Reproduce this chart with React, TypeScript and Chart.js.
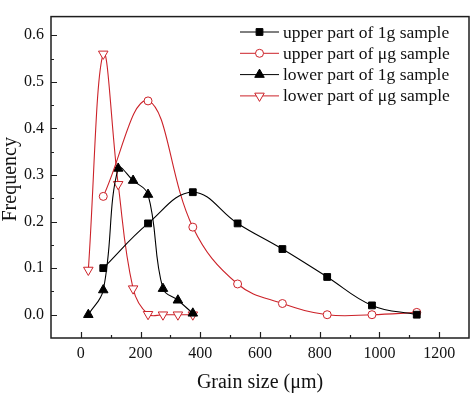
import React, { useEffect, useRef } from "react";
import { Chart, registerables } from "chart.js";

Chart.register(...registerables);

const xUpper = [75, 225, 375, 525, 675, 825, 975, 1125];
const upper1g = [0.1, 0.196, 0.263, 0.196, 0.141, 0.081, 0.02, 0.0];
const upperUg = [0.254, 0.459, 0.188, 0.066, 0.024, 0.0, 0.0, 0.005];
const xLower = [25, 75, 125, 175, 225, 275, 325, 375];
const lower1g = [0.0, 0.053, 0.314, 0.288, 0.258, 0.056, 0.031, 0.003];
const lowerUg = [0.096, 0.56, 0.28, 0.056, 0.001, 0.0, 0.0, 0.0];
const seriesNames = [
  "upper part of 1g sample",
  "upper part of μg sample",
  "lower part of 1g sample",
  "lower part of μg sample",
];
const xTickLabels = [0, 200, 400, 600, 800, 1000, 1200];
const yTickLabels = [0.0, 0.1, 0.2, 0.3, 0.4, 0.5, 0.6];

const RED = "#cc2229";
const BLACK = "#000000";
const AXIS = "#1e1e1e";
const FONT = "'Liberation Serif', 'Times New Roman', serif";

function pts(xs: number[], ys: number[]) {
  return xs.map((x, i) => ({ x, y: ys[i] }));
}

function drawMarker(ctx: CanvasRenderingContext2D, style: string, rot: number, x: number, y: number, r: number, fill: string, stroke: string) {
  ctx.save();
  ctx.beginPath();
  if (style === "rect") {
    const s = r * Math.SQRT1_2;
    ctx.rect(x - s, y - s, 2 * s, 2 * s);
  } else if (style === "circle") {
    ctx.arc(x, y, r, 0, Math.PI * 2);
  } else {
    let rad = (rot * Math.PI) / 180;
    for (let k = 0; k < 3; k++) {
      const px = x + Math.sin(rad) * r;
      const py = y - Math.cos(rad) * r;
      if (k === 0) ctx.moveTo(px, py);
      else ctx.lineTo(px, py);
      rad += (2 * Math.PI) / 3;
    }
    ctx.closePath();
  }
  ctx.fillStyle = fill;
  ctx.fill();
  ctx.strokeStyle = stroke;
  ctx.lineWidth = 1;
  ctx.stroke();
  ctx.restore();
}

const decorPlugin = {
  id: "decor",
  afterDraw(chart: any) {
    const ctx: CanvasRenderingContext2D = chart.ctx;
    const { left, right, top, bottom } = chart.chartArea;
    const xs = chart.scales.x;
    const ys = chart.scales.y;
    ctx.save();
    // frame
    ctx.strokeStyle = AXIS;
    ctx.lineWidth = 1.5;
    ctx.strokeRect(left, top, right - left, bottom - top);
    // ticks (inward)
    ctx.lineWidth = 1.2;
    ctx.beginPath();
    for (let v = 0; v <= 1200; v += 100) {
      const px = Math.round(xs.getPixelForValue(v)) + 0.5;
      const len = v % 200 === 0 ? 6 : 3;
      ctx.moveTo(px, bottom);
      ctx.lineTo(px, bottom - len);
    }
    for (let k = 0; k <= 12; k++) {
      const v = k * 0.05;
      const py = Math.round(ys.getPixelForValue(v)) + 0.5;
      const len = k % 2 === 0 ? 6 : 3;
      ctx.moveTo(left, py);
      ctx.lineTo(left + len, py);
    }
    ctx.stroke();
    // axis titles
    ctx.fillStyle = "#111";
    ctx.font = `20px ${FONT}`;
    ctx.textAlign = "center";
    ctx.textBaseline = "alphabetic";
    ctx.fillText("Grain size (μm)", (left + right) / 2, 388);
    ctx.save();
    ctx.translate(16, (top + bottom) / 2 + 2);
    ctx.rotate(-Math.PI / 2);
    ctx.fillText("Frequency", 0, 0);
    ctx.restore();
    // legend
    const ds = chart.data.datasets;
    ctx.font = `17.5px ${FONT}`;
    ctx.textAlign = "left";
    ctx.textBaseline = "middle";
    for (let i = 0; i < ds.length; i++) {
      const d = ds[i];
      const y = 32 + i * 21.3;
      ctx.strokeStyle = d.borderColor;
      ctx.lineWidth = 1;
      ctx.beginPath();
      ctx.moveTo(240, y);
      ctx.lineTo(279, y);
      ctx.stroke();
      drawMarker(ctx, d.pointStyle, d.pointRotation || 0, 259.5, y, d.pointRadius, d.pointBackgroundColor, d.borderColor);
      ctx.fillStyle = "#111";
      ctx.fillText(d.label, 283, y + 1);
    }
    ctx.restore();
  },
};

export default function App() {
  const ref = useRef<HTMLCanvasElement>(null);
  useEffect(() => {
    if (!ref.current) return;
    const common = { borderWidth: 1.1, tension: 0.4, pointBorderWidth: 1, pointHoverRadius: 5 };
    const chart = new Chart(ref.current, {
      type: "line",
      data: {
        datasets: [
          { ...common, label: seriesNames[0], data: pts(xUpper, upper1g), borderColor: BLACK, pointBackgroundColor: BLACK, pointStyle: "rect", pointRadius: 4.8 },
          { ...common, label: seriesNames[1], data: pts(xUpper, upperUg), borderColor: RED, pointBackgroundColor: "#ffffff", pointStyle: "circle", pointRadius: 4 },
          { ...common, label: seriesNames[2], data: pts(xLower, lower1g), borderColor: BLACK, pointBackgroundColor: BLACK, pointStyle: "triangle", pointRadius: 5.5 },
          { ...common, label: seriesNames[3], data: pts(xLower, lowerUg), borderColor: RED, pointBackgroundColor: "#ffffff", pointStyle: "triangle", pointRotation: 180, pointRadius: 5.5 },
        ] as any,
      },
      options: {
        responsive: false,
        animation: false,
        devicePixelRatio: 1,
        layout: { padding: { top: 1, right: 5, left: 0, bottom: 0 }, autoPadding: false } as any,
        plugins: { legend: { display: false }, tooltip: { enabled: false } },
        scales: {
          x: {
            type: "linear",
            min: -100,
            max: 1300,
            grid: { display: false, drawTicks: false },
            border: { display: false },
            afterFit: (s: any) => { s.height = 56; },
            afterBuildTicks: (s: any) => { s.ticks = xTickLabels.map((v) => ({ value: v })); },
            ticks: { padding: 6, color: "#111", font: { family: FONT, size: 16 }, maxRotation: 0, callback: (v: any) => String(v) },
          },
          y: {
            type: "linear",
            min: -0.05,
            max: 0.64,
            grid: { display: false, drawTicks: false },
            border: { display: false },
            afterFit: (s: any) => { s.width = 51; },
            afterBuildTicks: (s: any) => { s.ticks = yTickLabels.map((v) => ({ value: v })); },
            ticks: { padding: 7, color: "#111", font: { family: FONT, size: 16 }, callback: (v: any) => Number(v).toFixed(1) },
          },
        },
      },
      plugins: [decorPlugin],
    });
    return () => chart.destroy();
  }, []);
  return (
    <div style={{ position: "fixed", left: 0, top: 0, width: 474, height: 394, background: "#fff" }}>
      <canvas ref={ref} width={474} height={394} style={{ width: 474, height: 394 }} />
    </div>
  );
}
